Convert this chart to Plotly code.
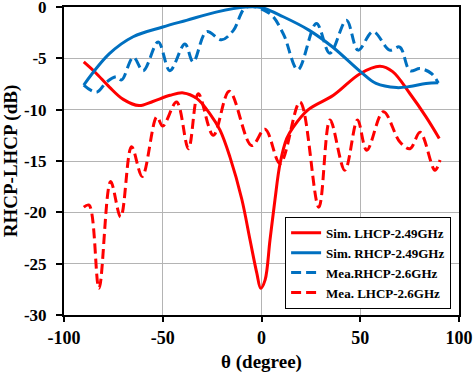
import plotly.graph_objects as go

# Sim. LHCP-2.49GHz
sim_lhcp_x = [-90, -84, -77, -70, -62, -55, -46.3, -39.6, -32.8, -26.1, -21, -16, -10, -5.8, -2.4, -0.4, 1.8, 4.3, 6.8, 9.4, 12.8, 16.1, 23.7, 36.4, 49.9, 60, 66.4, 75, 83.3, 90]
sim_lhcp_y = [-5.35, -6.4, -7.8, -9.0, -9.6, -9.2, -8.6, -8.37, -8.9, -10.4, -12.0, -14.6, -18.7, -22.7, -25.9, -27.4, -26.6, -22.7, -18.8, -15.25, -12.8, -11.7, -10.0, -8.6, -6.5, -5.78, -6.3, -8.4, -10.7, -12.8]

# Sim. RHCP-2.49GHz
sim_rhcp_x = [-90, -77, -65, -50, -38, -23, -8, 0, 11, 24, 36, 50.7, 58, 68.4, 75, 83.3, 89.5]
sim_rhcp_y = [-7.6, -4.55, -2.9, -1.95, -1.3, -0.5, 0.0, -0.05, -0.95, -2.25, -3.9, -6.4, -7.45, -7.85, -7.75, -7.45, -7.37]

# Mea.RHCP-2.6GHz
mea_rhcp_x = [-90, -83.5, -78.4, -73.4, -70.8, -64.9, -59.9, -52.3, -46.4, -38.8, -34.6, -27.8, -20.2, -14.3, -7.6, 4.2, 11, 18.4, 27.8, 34.6, 43, 48.9, 56.5, 64.9, 70, 75.2, 80.3, 86.2, 89.5]
mea_rhcp_y = [-7.6, -8.3, -7.3, -6.8, -7.1, -4.9, -6.2, -3.4, -6.2, -3.6, -5.35, -2.4, -3.2, -2.3, 0.0, -0.65, -2.6, -6.1, -1.6, -4.5, -1.3, -4.2, -2.4, -4.2, -3.9, -6.2, -6.0, -6.5, -7.4]

# Mea. LHCP-2.6GHz
mea_lhcp_x = [-90, -87.3, -82.3, -76.4, -71.3, -65.8, -60.4, -53, -50, -43, -37, -32, -24.4, -16.3, -5, 1.8, 9.4, 19.5, 29, 34.7, 42.2, 48.6, 53.3, 61.7, 70.1, 75.2, 80.3, 87.8, 90.4]
mea_lhcp_y = [-19.5, -19.3, -27.4, -17.0, -20.45, -13.6, -16.5, -10.7, -11.6, -9.25, -13.8, -8.45, -12.5, -8.2, -13.5, -11.9, -15.25, -9.25, -19.5, -11.0, -15.9, -11.0, -13.95, -10.2, -13.15, -13.8, -12.2, -15.9, -14.9]

x_ticks = [-100, -50, 0, 50, 100]
y_ticks = [0, -5, -10, -15, -20, -25, -30]

RED = "#ff0000"
BLUE = "#0070c0"
DASH = "10px,5px"
font_family = "Liberation Serif"

fig = go.Figure()
fig.add_trace(go.Scatter(x=sim_lhcp_x, y=sim_lhcp_y, mode="lines", name="<b>Sim. LHCP-2.49GHz</b>",
                         line=dict(color=RED, width=3, shape="spline", smoothing=1.0)))
fig.add_trace(go.Scatter(x=sim_rhcp_x, y=sim_rhcp_y, mode="lines", name="<b>Sim. RHCP-2.49GHz</b>",
                         line=dict(color=BLUE, width=3, shape="spline", smoothing=1.0)))
fig.add_trace(go.Scatter(x=mea_rhcp_x, y=mea_rhcp_y, mode="lines", name="<b>Mea.RHCP-2.6GHz</b>",
                         line=dict(color=BLUE, width=3, dash=DASH, shape="spline", smoothing=1.0)))
fig.add_trace(go.Scatter(x=mea_lhcp_x, y=mea_lhcp_y, mode="lines", name="<b>Mea. LHCP-2.6GHz</b>",
                         line=dict(color=RED, width=3, dash=DASH, shape="spline", smoothing=1.0)))

fig.update_layout(
    width=474, height=373,
    margin=dict(l=64, r=15, t=7, b=58),
    paper_bgcolor="white", plot_bgcolor="white",
    font=dict(family=font_family, color="black"),
    showlegend=True,
    legend=dict(x=0.98, y=0.02, xanchor="right", yanchor="bottom",
                bgcolor="white", bordercolor="black", borderwidth=1,
                font=dict(family=font_family, size=13, color="black"),
                tracegroupgap=0, itemwidth=30),
)
fig.update_xaxes(
    range=[-100, 100], tickmode="array", tickvals=x_ticks,
    ticktext=["<b>%d</b>" % v for v in x_ticks],
    tickfont=dict(family=font_family, size=18, color="black"),
    showgrid=True, gridcolor="#b4b4b4", gridwidth=1,
    showline=True, linecolor="black", linewidth=2, mirror=True,
    ticks="outside", ticklen=5, tickwidth=2, tickcolor="black",
    ticklabeloverflow="allow",
    zeroline=False, automargin=False,
    title=dict(text="<b>θ (degree)</b>", font=dict(family=font_family, size=19, color="black"), standoff=13),
)
fig.update_yaxes(
    range=[-30, 0], tickmode="array", tickvals=y_ticks,
    ticktext=["<b>%d</b>" % v for v in y_ticks],
    tickfont=dict(family=font_family, size=17, color="black"),
    showgrid=True, gridcolor="#b4b4b4", gridwidth=1,
    showline=True, linecolor="black", linewidth=2, mirror=True,
    ticks="outside", ticklen=6, tickwidth=2, tickcolor="black",
    ticklabelstandoff=6, ticklabeloverflow="allow",
    zeroline=False, automargin=False,
    title=dict(text="<b>RHCP-LHCP (dB)</b>", font=dict(family=font_family, size=19, color="black"), standoff=12),
)

# remove the page's default body margin so the figure fills the window exactly
fig.write_html("out.html", config={"displayModeBar": False},
               post_script="document.body.style.margin='0';")
